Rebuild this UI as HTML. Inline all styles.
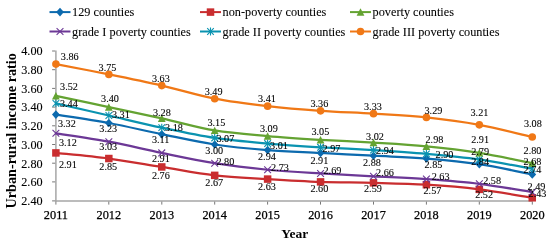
<!DOCTYPE html><html><head><meta charset="utf-8"><style>html,body{margin:0;padding:0;background:#fff;width:550px;height:243px;overflow:hidden}svg{display:block;will-change:transform;filter:blur(0.3px)}text{font-family:"Liberation Serif",serif;fill:#000;}</style></head><body>
<svg width="550" height="243" viewBox="0 0 550 243">
<g stroke="#a6a6a6" stroke-width="1.5" fill="none">
<path d="M55.9,50.5V201.6"/>
<path d="M55.2,200.9H532.8"/>
</g>
<g stroke="#787878" stroke-width="1" fill="none">
<path d="M52.1,51.0H55.2"/>
<path d="M52.1,69.7H55.2"/>
<path d="M52.1,88.4H55.2"/>
<path d="M52.1,107.1H55.2"/>
<path d="M52.1,125.8H55.2"/>
<path d="M52.1,144.5H55.2"/>
<path d="M52.1,163.2H55.2"/>
<path d="M52.1,181.9H55.2"/>
<path d="M52.1,200.9H55.2"/>
<path d="M55.9,201.6V204.6"/>
<path d="M108.8,201.6V204.6"/>
<path d="M161.8,201.6V204.6"/>
<path d="M214.7,201.6V204.6"/>
<path d="M267.6,201.6V204.6"/>
<path d="M320.5,201.6V204.6"/>
<path d="M373.5,201.6V204.6"/>
<path d="M426.4,201.6V204.6"/>
<path d="M479.3,201.6V204.6"/>
<path d="M532.3,201.6V204.6"/>
</g>
<text x="42.6" y="55.3" font-size="12.2" text-anchor="end" stroke="#000" stroke-width="0.12">4.00</text>
<text x="42.6" y="74.0" font-size="12.2" text-anchor="end" stroke="#000" stroke-width="0.12">3.80</text>
<text x="42.6" y="92.7" font-size="12.2" text-anchor="end" stroke="#000" stroke-width="0.12">3.60</text>
<text x="42.6" y="111.4" font-size="12.2" text-anchor="end" stroke="#000" stroke-width="0.12">3.40</text>
<text x="42.6" y="130.1" font-size="12.2" text-anchor="end" stroke="#000" stroke-width="0.12">3.20</text>
<text x="42.6" y="148.8" font-size="12.2" text-anchor="end" stroke="#000" stroke-width="0.12">3.00</text>
<text x="42.6" y="167.5" font-size="12.2" text-anchor="end" stroke="#000" stroke-width="0.12">2.80</text>
<text x="42.6" y="186.2" font-size="12.2" text-anchor="end" stroke="#000" stroke-width="0.12">2.60</text>
<text x="42.6" y="204.9" font-size="12.2" text-anchor="end" stroke="#000" stroke-width="0.12">2.40</text>
<text x="55.9" y="218.9" font-size="12.3" text-anchor="middle" stroke="#000" stroke-width="0.25">2011</text>
<text x="108.8" y="218.9" font-size="12.3" text-anchor="middle" stroke="#000" stroke-width="0.25">2012</text>
<text x="161.8" y="218.9" font-size="12.3" text-anchor="middle" stroke="#000" stroke-width="0.25">2013</text>
<text x="214.7" y="218.9" font-size="12.3" text-anchor="middle" stroke="#000" stroke-width="0.25">2014</text>
<text x="267.6" y="218.9" font-size="12.3" text-anchor="middle" stroke="#000" stroke-width="0.25">2015</text>
<text x="320.5" y="218.9" font-size="12.3" text-anchor="middle" stroke="#000" stroke-width="0.25">2016</text>
<text x="373.5" y="218.9" font-size="12.3" text-anchor="middle" stroke="#000" stroke-width="0.25">2017</text>
<text x="426.4" y="218.9" font-size="12.3" text-anchor="middle" stroke="#000" stroke-width="0.25">2018</text>
<text x="479.3" y="218.9" font-size="12.3" text-anchor="middle" stroke="#000" stroke-width="0.25">2019</text>
<text x="532.3" y="218.9" font-size="12.3" text-anchor="middle" stroke="#000" stroke-width="0.25">2020</text>
<text x="294.7" y="237.8" font-size="13.5" font-weight="bold" text-anchor="middle">Year</text>
<text transform="translate(15.6,130.8) rotate(-90)" font-size="14.2" font-weight="bold" text-anchor="middle">Urban-rural income ratio</text>
<path d="M55.90,152.91 C64.72,153.85 91.19,156.19 108.83,158.52 C126.47,160.86 144.12,164.13 161.76,166.94 C179.40,169.75 197.05,173.33 214.69,175.36 C232.33,177.38 249.98,178.00 267.62,179.09 C285.26,180.19 302.91,181.28 320.55,181.90 C338.19,182.52 355.84,182.37 373.48,182.84 C391.12,183.30 408.77,183.61 426.41,184.71 C444.05,185.80 461.70,187.20 479.34,189.38 C496.98,191.56 523.45,196.39 532.27,197.79" stroke="#c92d2f" stroke-width="2.25" fill="none" stroke-linecap="round"/>
<rect x="52.15" y="149.16" width="7.50" height="7.50" fill="#c92d2f"/>
<rect x="105.08" y="154.77" width="7.50" height="7.50" fill="#c92d2f"/>
<rect x="158.01" y="163.19" width="7.50" height="7.50" fill="#c92d2f"/>
<rect x="210.94" y="171.61" width="7.50" height="7.50" fill="#c92d2f"/>
<rect x="263.87" y="175.34" width="7.50" height="7.50" fill="#c92d2f"/>
<rect x="316.80" y="178.15" width="7.50" height="7.50" fill="#c92d2f"/>
<rect x="369.73" y="179.09" width="7.50" height="7.50" fill="#c92d2f"/>
<rect x="422.66" y="180.96" width="7.50" height="7.50" fill="#c92d2f"/>
<rect x="475.59" y="185.63" width="7.50" height="7.50" fill="#c92d2f"/>
<rect x="528.52" y="194.04" width="7.50" height="7.50" fill="#c92d2f"/>
<path d="M55.90,133.28 C64.72,134.68 91.19,138.42 108.83,141.69 C126.47,144.97 144.12,149.33 161.76,152.91 C179.40,156.50 197.05,160.40 214.69,163.20 C232.33,166.01 249.98,168.03 267.62,169.75 C285.26,171.46 302.91,172.39 320.55,173.48 C338.19,174.58 355.84,175.35 373.48,176.29 C391.12,177.22 408.77,177.85 426.41,179.09 C444.05,180.34 461.70,181.59 479.34,183.77 C496.98,185.95 523.45,190.78 532.27,192.18" stroke="#6c3896" stroke-width="2.25" fill="none" stroke-linecap="round"/>
<path d="M52.50,129.88L59.30,136.68M59.30,129.88L52.50,136.68" stroke="#6c3896" stroke-width="1.1" fill="none"/>
<path d="M105.43,138.29L112.23,145.09M112.23,138.29L105.43,145.09" stroke="#6c3896" stroke-width="1.1" fill="none"/>
<path d="M158.36,149.51L165.16,156.31M165.16,149.51L158.36,156.31" stroke="#6c3896" stroke-width="1.1" fill="none"/>
<path d="M211.29,159.80L218.09,166.60M218.09,159.80L211.29,166.60" stroke="#6c3896" stroke-width="1.1" fill="none"/>
<path d="M264.22,166.34L271.02,173.15M271.02,166.34L264.22,173.15" stroke="#6c3896" stroke-width="1.1" fill="none"/>
<path d="M317.15,170.08L323.95,176.88M323.95,170.08L317.15,176.88" stroke="#6c3896" stroke-width="1.1" fill="none"/>
<path d="M370.08,172.89L376.88,179.69M376.88,172.89L370.08,179.69" stroke="#6c3896" stroke-width="1.1" fill="none"/>
<path d="M423.01,175.69L429.81,182.50M429.81,175.69L423.01,182.50" stroke="#6c3896" stroke-width="1.1" fill="none"/>
<path d="M475.94,180.37L482.74,187.17M482.74,180.37L475.94,187.17" stroke="#6c3896" stroke-width="1.1" fill="none"/>
<path d="M528.87,188.78L535.67,195.58M535.67,188.78L528.87,195.58" stroke="#6c3896" stroke-width="1.1" fill="none"/>
<path d="M55.90,114.58 C64.72,115.98 91.19,119.72 108.83,123.00 C126.47,126.27 144.12,130.63 161.76,134.22 C179.40,137.80 197.05,141.85 214.69,144.50 C232.33,147.15 249.98,148.71 267.62,150.11 C285.26,151.51 302.91,151.98 320.55,152.91 C338.19,153.85 355.84,154.79 373.48,155.72 C391.12,156.66 408.77,157.12 426.41,158.52 C444.05,159.93 461.70,161.49 479.34,164.13 C496.98,166.78 523.45,172.71 532.27,174.42" stroke="#0c6aae" stroke-width="2.25" fill="none" stroke-linecap="round"/>
<path d="M55.90,110.28L59.80,114.58L55.90,118.88L52.00,114.58Z" fill="#0c6aae"/>
<path d="M108.83,118.70L112.73,123.00L108.83,127.30L104.93,123.00Z" fill="#0c6aae"/>
<path d="M161.76,129.91L165.66,134.22L161.76,138.52L157.86,134.22Z" fill="#0c6aae"/>
<path d="M214.69,140.20L218.59,144.50L214.69,148.80L210.79,144.50Z" fill="#0c6aae"/>
<path d="M267.62,145.81L271.52,150.11L267.62,154.41L263.72,150.11Z" fill="#0c6aae"/>
<path d="M320.55,148.61L324.45,152.91L320.55,157.21L316.65,152.91Z" fill="#0c6aae"/>
<path d="M373.48,151.42L377.38,155.72L373.48,160.02L369.58,155.72Z" fill="#0c6aae"/>
<path d="M426.41,154.22L430.31,158.52L426.41,162.82L422.51,158.52Z" fill="#0c6aae"/>
<path d="M479.34,159.83L483.24,164.13L479.34,168.44L475.44,164.13Z" fill="#0c6aae"/>
<path d="M532.27,170.12L536.17,174.42L532.27,178.72L528.37,174.42Z" fill="#0c6aae"/>
<path d="M55.90,103.36 C64.72,105.39 91.19,111.46 108.83,115.51 C126.47,119.57 144.12,123.93 161.76,127.67 C179.40,131.41 197.05,135.31 214.69,137.95 C232.33,140.60 249.98,142.01 267.62,143.56 C285.26,145.12 302.91,146.21 320.55,147.30 C338.19,148.40 355.84,149.02 373.48,150.11 C391.12,151.20 408.77,152.29 426.41,153.85 C444.05,155.41 461.70,156.97 479.34,159.46 C496.98,161.95 523.45,167.25 532.27,168.81" stroke="#0a93b0" stroke-width="2.25" fill="none" stroke-linecap="round"/>
<path d="M52.60,100.06L59.20,106.66M59.20,100.06L52.60,106.66M55.90,99.36L55.90,107.36" stroke="#0a93b0" stroke-width="1.1" fill="none"/>
<path d="M105.53,112.21L112.13,118.81M112.13,112.21L105.53,118.81M108.83,111.51L108.83,119.51" stroke="#0a93b0" stroke-width="1.1" fill="none"/>
<path d="M158.46,124.37L165.06,130.97M165.06,124.37L158.46,130.97M161.76,123.67L161.76,131.67" stroke="#0a93b0" stroke-width="1.1" fill="none"/>
<path d="M211.39,134.65L217.99,141.25M217.99,134.65L211.39,141.25M214.69,133.95L214.69,141.95" stroke="#0a93b0" stroke-width="1.1" fill="none"/>
<path d="M264.32,140.26L270.92,146.87M270.92,140.26L264.32,146.87M267.62,139.56L267.62,147.56" stroke="#0a93b0" stroke-width="1.1" fill="none"/>
<path d="M317.25,144.00L323.85,150.60M323.85,144.00L317.25,150.60M320.55,143.30L320.55,151.30" stroke="#0a93b0" stroke-width="1.1" fill="none"/>
<path d="M370.18,146.81L376.78,153.41M376.78,146.81L370.18,153.41M373.48,146.11L373.48,154.11" stroke="#0a93b0" stroke-width="1.1" fill="none"/>
<path d="M423.11,150.55L429.71,157.15M429.71,150.55L423.11,157.15M426.41,149.85L426.41,157.85" stroke="#0a93b0" stroke-width="1.1" fill="none"/>
<path d="M476.04,156.16L482.64,162.76M482.64,156.16L476.04,162.76M479.34,155.46L479.34,163.46" stroke="#0a93b0" stroke-width="1.1" fill="none"/>
<path d="M528.97,165.51L535.57,172.11M535.57,165.51L528.97,172.11M532.27,164.81L532.27,172.81" stroke="#0a93b0" stroke-width="1.1" fill="none"/>
<path d="M55.90,95.88 C64.72,97.75 91.19,103.36 108.83,107.10 C126.47,110.84 144.12,114.42 161.76,118.32 C179.40,122.22 197.05,127.51 214.69,130.47 C232.33,133.44 249.98,134.53 267.62,136.09 C285.26,137.64 302.91,138.73 320.55,139.83 C338.19,140.92 355.84,141.54 373.48,142.63 C391.12,143.72 408.77,144.66 426.41,146.37 C444.05,148.08 461.70,150.11 479.34,152.91 C496.98,155.72 523.45,161.49 532.27,163.20" stroke="#64a332" stroke-width="2.25" fill="none" stroke-linecap="round"/>
<path d="M55.90,92.08L59.80,99.48L52.00,99.48Z" fill="#64a332"/>
<path d="M108.83,103.30L112.73,110.70L104.93,110.70Z" fill="#64a332"/>
<path d="M161.76,114.52L165.66,121.92L157.86,121.92Z" fill="#64a332"/>
<path d="M214.69,126.67L218.59,134.07L210.79,134.07Z" fill="#64a332"/>
<path d="M267.62,132.28L271.52,139.69L263.72,139.69Z" fill="#64a332"/>
<path d="M320.55,136.03L324.45,143.43L316.65,143.43Z" fill="#64a332"/>
<path d="M373.48,138.83L377.38,146.23L369.58,146.23Z" fill="#64a332"/>
<path d="M426.41,142.57L430.31,149.97L422.51,149.97Z" fill="#64a332"/>
<path d="M479.34,149.11L483.24,156.51L475.44,156.51Z" fill="#64a332"/>
<path d="M532.27,159.40L536.17,166.80L528.37,166.80Z" fill="#64a332"/>
<path d="M55.90,64.09 C64.72,65.80 91.19,70.79 108.83,74.38 C126.47,77.96 144.12,81.54 161.76,85.59 C179.40,89.65 197.05,95.26 214.69,98.68 C232.33,102.11 249.98,104.14 267.62,106.16 C285.26,108.19 302.91,109.59 320.55,110.84 C338.19,112.09 355.84,112.55 373.48,113.64 C391.12,114.74 408.77,115.51 426.41,117.38 C444.05,119.25 461.70,121.59 479.34,124.86 C496.98,128.14 523.45,134.99 532.27,137.02" stroke="#f07816" stroke-width="2.25" fill="none" stroke-linecap="round"/>
<circle cx="55.90" cy="64.09" r="3.80" fill="#f07816"/>
<circle cx="108.83" cy="74.38" r="3.80" fill="#f07816"/>
<circle cx="161.76" cy="85.59" r="3.80" fill="#f07816"/>
<circle cx="214.69" cy="98.68" r="3.80" fill="#f07816"/>
<circle cx="267.62" cy="106.16" r="3.80" fill="#f07816"/>
<circle cx="320.55" cy="110.84" r="3.80" fill="#f07816"/>
<circle cx="373.48" cy="113.64" r="3.80" fill="#f07816"/>
<circle cx="426.41" cy="117.38" r="3.80" fill="#f07816"/>
<circle cx="479.34" cy="124.86" r="3.80" fill="#f07816"/>
<circle cx="532.27" cy="137.02" r="3.80" fill="#f07816"/>
<text x="58.9" y="168.3" font-size="10.2" stroke="#000" stroke-width="0.1">2.91</text>
<text x="99.3" y="170.3" font-size="10.2" stroke="#000" stroke-width="0.1">2.85</text>
<text x="151.9" y="179.3" font-size="10.2" stroke="#000" stroke-width="0.1">2.76</text>
<text x="205.3" y="186.4" font-size="10.2" stroke="#000" stroke-width="0.1">2.67</text>
<text x="258.0" y="190.2" font-size="10.2" stroke="#000" stroke-width="0.1">2.63</text>
<text x="310.4" y="192.2" font-size="10.2" stroke="#000" stroke-width="0.1">2.60</text>
<text x="364.0" y="192.2" font-size="10.2" stroke="#000" stroke-width="0.1">2.59</text>
<text x="423.5" y="193.6" font-size="10.2" stroke="#000" stroke-width="0.1">2.57</text>
<text x="475.2" y="198.3" font-size="10.2" stroke="#000" stroke-width="0.1">2.52</text>
<text x="528.6" y="197.3" font-size="10.2" stroke="#000" stroke-width="0.1">2.43</text>
<text x="58.9" y="145.7" font-size="10.2" stroke="#000" stroke-width="0.1">3.12</text>
<text x="99.3" y="150.2" font-size="10.2" stroke="#000" stroke-width="0.1">3.03</text>
<text x="151.9" y="162.2" font-size="10.2" stroke="#000" stroke-width="0.1">2.91</text>
<text x="216.4" y="165.2" font-size="10.2" stroke="#000" stroke-width="0.1">2.80</text>
<text x="271.1" y="171.3" font-size="10.2" stroke="#000" stroke-width="0.1">2.73</text>
<text x="323.5" y="174.4" font-size="10.2" stroke="#000" stroke-width="0.1">2.69</text>
<text x="376.1" y="176.3" font-size="10.2" stroke="#000" stroke-width="0.1">2.66</text>
<text x="431.7" y="180.4" font-size="10.2" stroke="#000" stroke-width="0.1">2.63</text>
<text x="483.2" y="184.2" font-size="10.2" stroke="#000" stroke-width="0.1">2.58</text>
<text x="527.6" y="190.2" font-size="10.2" stroke="#000" stroke-width="0.1">2.49</text>
<text x="57.9" y="127.3" font-size="10.2" stroke="#000" stroke-width="0.1">3.32</text>
<text x="99.3" y="132.3" font-size="10.2" stroke="#000" stroke-width="0.1">3.23</text>
<text x="151.9" y="143.3" font-size="10.2" stroke="#000" stroke-width="0.1">3.11</text>
<text x="205.3" y="154.1" font-size="10.2" stroke="#000" stroke-width="0.1">3.00</text>
<text x="258.0" y="160.2" font-size="10.2" stroke="#000" stroke-width="0.1">2.94</text>
<text x="310.4" y="164.3" font-size="10.2" stroke="#000" stroke-width="0.1">2.91</text>
<text x="363.0" y="165.6" font-size="10.2" stroke="#000" stroke-width="0.1">2.88</text>
<text x="424.5" y="167.7" font-size="10.2" stroke="#000" stroke-width="0.1">2.85</text>
<text x="471.2" y="165.4" font-size="10.2" stroke="#000" stroke-width="0.1">2.84</text>
<text x="523.6" y="173.1" font-size="10.2" stroke="#000" stroke-width="0.1">2.74</text>
<text x="59.9" y="107.3" font-size="10.2" stroke="#000" stroke-width="0.1">3.44</text>
<text x="111.9" y="118.2" font-size="10.2" stroke="#000" stroke-width="0.1">3.31</text>
<text x="165.0" y="131.3" font-size="10.2" stroke="#000" stroke-width="0.1">3.18</text>
<text x="216.4" y="142.3" font-size="10.2" stroke="#000" stroke-width="0.1">3.07</text>
<text x="270.1" y="149.2" font-size="10.2" stroke="#000" stroke-width="0.1">3.01</text>
<text x="322.5" y="152.2" font-size="10.2" stroke="#000" stroke-width="0.1">2.97</text>
<text x="376.1" y="153.5" font-size="10.2" stroke="#000" stroke-width="0.1">2.94</text>
<text x="435.6" y="157.6" font-size="10.2" stroke="#000" stroke-width="0.1">2.90</text>
<text x="471.2" y="155.3" font-size="10.2" stroke="#000" stroke-width="0.1">2.79</text>
<text x="523.6" y="165.4" font-size="10.2" stroke="#000" stroke-width="0.1">2.68</text>
<text x="60.1" y="89.5" font-size="10.2" stroke="#000" stroke-width="0.1">3.52</text>
<text x="101.1" y="101.9" font-size="10.2" stroke="#000" stroke-width="0.1">3.40</text>
<text x="152.9" y="116.1" font-size="10.2" stroke="#000" stroke-width="0.1">3.28</text>
<text x="207.4" y="126.2" font-size="10.2" stroke="#000" stroke-width="0.1">3.15</text>
<text x="259.9" y="132.3" font-size="10.2" stroke="#000" stroke-width="0.1">3.09</text>
<text x="311.4" y="135.4" font-size="10.2" stroke="#000" stroke-width="0.1">3.05</text>
<text x="366.0" y="140.3" font-size="10.2" stroke="#000" stroke-width="0.1">3.02</text>
<text x="425.5" y="143.3" font-size="10.2" stroke="#000" stroke-width="0.1">2.98</text>
<text x="471.2" y="143.2" font-size="10.2" stroke="#000" stroke-width="0.1">2.91</text>
<text x="523.6" y="154.3" font-size="10.2" stroke="#000" stroke-width="0.1">2.80</text>
<text x="60.8" y="59.9" font-size="10.2" stroke="#000" stroke-width="0.1">3.86</text>
<text x="98.6" y="71.0" font-size="10.2" stroke="#000" stroke-width="0.1">3.75</text>
<text x="151.9" y="82.2" font-size="10.2" stroke="#000" stroke-width="0.1">3.63</text>
<text x="204.7" y="95.3" font-size="10.2" stroke="#000" stroke-width="0.1">3.49</text>
<text x="258.0" y="102.1" font-size="10.2" stroke="#000" stroke-width="0.1">3.41</text>
<text x="310.4" y="107.1" font-size="10.2" stroke="#000" stroke-width="0.1">3.36</text>
<text x="364.0" y="110.1" font-size="10.2" stroke="#000" stroke-width="0.1">3.33</text>
<text x="424.5" y="114.1" font-size="10.2" stroke="#000" stroke-width="0.1">3.29</text>
<text x="470.5" y="115.8" font-size="10.2" stroke="#000" stroke-width="0.1">3.21</text>
<text x="523.9" y="127.2" font-size="10.2" stroke="#000" stroke-width="0.1">3.08</text>
<path d="M49.5,12.1H70.5" stroke="#0c6aae" stroke-width="2.00"/>
<path d="M60.00,7.80L63.90,12.10L60.00,16.40L56.10,12.10Z" fill="#0c6aae"/>
<text x="72.1" y="16.1" font-size="12.25" stroke="#000" stroke-width="0.08">129 counties</text>
<path d="M200.0,12.1H221.0" stroke="#c92d2f" stroke-width="2.00"/>
<rect x="206.75" y="8.35" width="7.50" height="7.50" fill="#c92d2f"/>
<text x="222.6" y="16.1" font-size="12.25" stroke="#000" stroke-width="0.08">non-poverty counties</text>
<path d="M350.0,12.1H371.0" stroke="#64a332" stroke-width="2.00"/>
<path d="M360.50,8.30L364.40,15.70L356.60,15.70Z" fill="#64a332"/>
<text x="372.6" y="16.1" font-size="12.25" stroke="#000" stroke-width="0.08">poverty counties</text>
<path d="M49.5,31.5H70.5" stroke="#6c3896" stroke-width="2.00"/>
<path d="M56.60,28.10L63.40,34.90M63.40,28.10L56.60,34.90" stroke="#6c3896" stroke-width="1.1" fill="none"/>
<text x="72.1" y="35.5" font-size="12.25" stroke="#000" stroke-width="0.08">grade I poverty counties</text>
<path d="M200.0,31.5H221.0" stroke="#0a93b0" stroke-width="2.00"/>
<path d="M207.20,28.20L213.80,34.80M213.80,28.20L207.20,34.80M210.50,27.50L210.50,35.50" stroke="#0a93b0" stroke-width="1.1" fill="none"/>
<text x="222.6" y="35.5" font-size="12.25" stroke="#000" stroke-width="0.08">grade II poverty counties</text>
<path d="M350.0,31.5H371.0" stroke="#f07816" stroke-width="2.00"/>
<circle cx="360.50" cy="31.50" r="3.80" fill="#f07816"/>
<text x="372.6" y="35.5" font-size="12.25" stroke="#000" stroke-width="0.08">grade III poverty counties</text>
</svg></body></html>
